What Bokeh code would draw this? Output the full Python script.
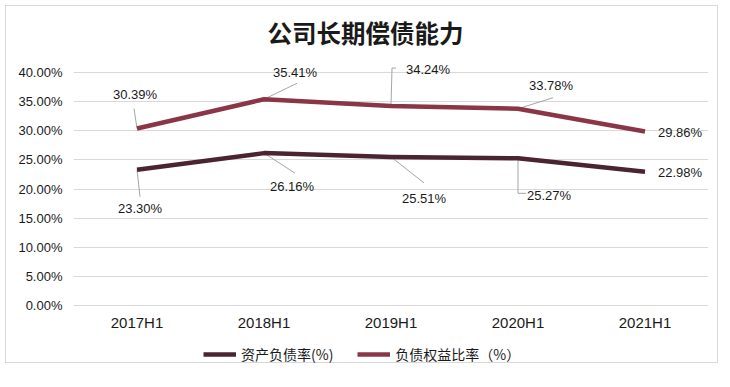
from bokeh.plotting import figure
from bokeh.models import (FixedTicker, PrintfTickFormatter, Legend, LegendItem,
                          ColumnDataSource, Range1d)
from bokeh.core.properties import value
from bokeh.embed import file_html
from bokeh.resources import INLINE

# ---- data ----
categories = ["2017H1", "2018H1", "2019H1", "2020H1", "2021H1"]
asset_liability = [23.30, 26.16, 25.51, 25.27, 22.98]      # 资产负债率(%)
debt_equity = [30.39, 35.41, 34.24, 33.78, 29.86]          # 负债权益比率（%）
y_ticks = [0, 5, 10, 15, 20, 25, 30, 35, 40]
title_text = "公司长期偿债能力"
series_names = ["资产负债率(%)", "负债权益比率（%）"]

# ---- styles / label placements (pixel offsets from each point) ----
C_DARK = "#4a2431"
C_RED = "#8b3647"
NUM_FONT = "Liberation Sans"
CJK_FONT = "Noto Sans CJK SC"

red_label_off = [(-2, -34), (31, -27), (37, -37), (33, -23), (35, 1)]
dark_label_off = [(3, 39), (28, 33), (33, 42), (31, 37), (35, 1)]
red_leaders = [[(0, 0), (-3, -20)], [(0, 0), (33, -16)], [(0, 0), (1, -38), (5, -38)],
               [(0, 0), (35, -11)], None]
dark_leaders = [[(0, 0), (3, 27)], [(0, 0), (31, 20)], [(0, 0), (33, 26)],
                [(0, 0), (0, 35), (8, 35)], None]

# layout in canvas pixels (canvas starts 6px into the page)
W, H = 713, 358
BL, BR = 67, 11
ZERO_PX = 299            # canvas y of the 0% line
TOP_TICK_PX = 66         # canvas y of the 40% line
TITLE_PX = (359, 26)     # canvas centre of the title
frame_w = W - BL - BR
x_lo, x_hi = -0.5, len(categories) - 0.5
px_x = frame_w / (x_hi - x_lo)
px_y = (ZERO_PX - TOP_TICK_PX) / y_ticks[-1]
y_hi = ZERO_PX / px_y
y_lo = -(H - ZERO_PX) / px_y

p = figure(width=W, height=H, output_backend="svg", toolbar_location=None,
           x_range=Range1d(x_lo, x_hi), y_range=Range1d(y_lo, y_hi),
           min_border_left=BL, min_border_right=BR, min_border_top=0,
           min_border_bottom=0)
p.styles = {"border": "1px solid #d9d9d9", "margin-left": "5px", "margin-top": "5px"}
p.outline_line_color = None
p.background_fill_color = "white"
p.border_fill_color = "white"

xs = list(range(len(categories)))

# axes
p.xaxis.fixed_location = 0
p.xaxis.ticker = FixedTicker(ticks=xs)
p.xaxis.major_label_overrides = {i: c for i, c in enumerate(categories)}
p.xaxis.axis_line_color = None
p.xaxis.major_tick_line_color = None
p.xaxis.minor_tick_line_color = None
p.xaxis.major_tick_out = 0
p.xaxis.minor_tick_out = 0
p.xaxis.major_label_text_font = NUM_FONT
p.xaxis.major_label_text_font_size = "15px"
p.xaxis.major_label_text_color = "#1a1a1a"
p.xaxis.major_label_standoff = 8

p.yaxis.ticker = FixedTicker(ticks=y_ticks)
p.yaxis.formatter = PrintfTickFormatter(format="%.2f%%")
p.yaxis.axis_line_color = None
p.yaxis.major_tick_line_color = None
p.yaxis.minor_tick_line_color = None
p.yaxis.major_tick_out = 0
p.yaxis.minor_tick_out = 0
p.yaxis.major_label_text_font = NUM_FONT
p.yaxis.major_label_text_font_size = "13px"
p.yaxis.major_label_text_color = "#1a1a1a"
p.yaxis.major_label_standoff = 11

p.xgrid.grid_line_color = None
p.ygrid.grid_line_color = "#d9d9d9"
p.ygrid.grid_line_width = 1

# chart title
p.text(x=[x_lo + (TITLE_PX[0] - BL) / px_x], y=[(ZERO_PX - TITLE_PX[1]) / px_y],
       text=[title_text], text_align="center", text_baseline="middle",
       text_font=value(CJK_FONT), text_font_size="24.5px", text_font_style="bold",
       text_color="#1a1a1a")


def leader_paths(vals, leaders):
    lx, ly = [], []
    for i, (v, path) in enumerate(zip(vals, leaders)):
        if path is None:
            continue
        lx.append([i + dx / px_x for dx, dy in path])
        ly.append([v - dy / px_y for dx, dy in path])
    return lx, ly


for vals, leaders in ((debt_equity, red_leaders), (asset_liability, dark_leaders)):
    lx, ly = leader_paths(vals, leaders)
    p.multi_line(lx, ly, line_color="#a6a6a6", line_width=1)

r_dark = p.line(xs, asset_liability, line_color=C_DARK, line_width=4.5, line_join="round")
r_red = p.line(xs, debt_equity, line_color=C_RED, line_width=4.5, line_join="round")


def label_source(vals, offs):
    return ColumnDataSource(dict(
        x=[i + dx / px_x for i, (dx, dy) in enumerate(offs)],
        y=[v - dy / px_y for v, (dx, dy) in zip(vals, offs)],
        t=["%.2f%%" % v for v in vals]))


for vals, offs in ((debt_equity, red_label_off), (asset_liability, dark_label_off)):
    p.text(x="x", y="y", text="t", source=label_source(vals, offs),
           text_align="center", text_baseline="middle",
           text_font=value(NUM_FONT), text_font_size="13px", text_color="#1a1a1a")

legend = Legend(items=[LegendItem(label=series_names[0], renderers=[r_dark]),
                       LegendItem(label=series_names[1], renderers=[r_red])],
                orientation="horizontal", location=(130, 0),
                glyph_width=33, glyph_height=20, label_standoff=5, spacing=24,
                padding=0, margin=0, border_line_color=None,
                background_fill_alpha=0,
                label_text_font=CJK_FONT, label_text_font_size="14px",
                label_text_color="#1a1a1a")
p.add_layout(legend, "center")

open("out.html", "w").write(file_html(p, INLINE))
